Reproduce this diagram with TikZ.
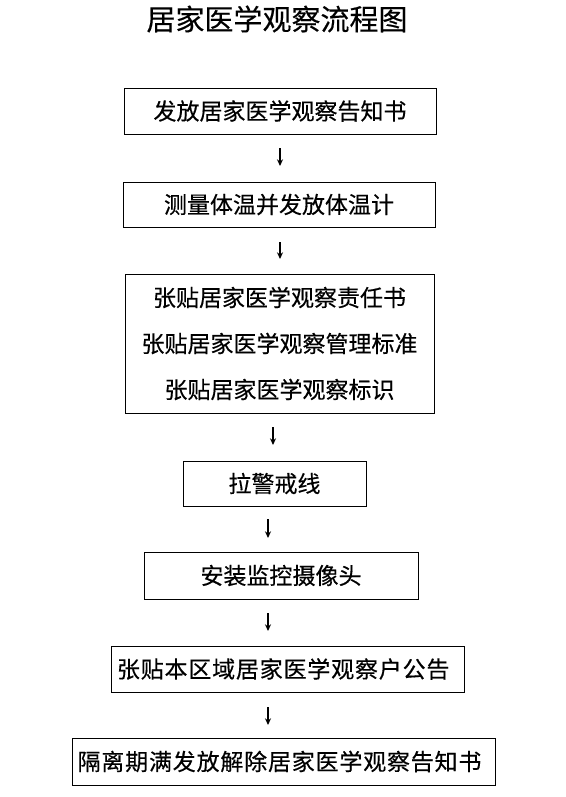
\documentclass[tikz,border=0pt]{standalone}
\usepackage{fontspec}
\setmainfont{Noto Sans CJK SC}[FakeBold=0.4]
\newfontfamily\widecjk{Noto Sans CJK SC}[FakeBold=0.4, LetterSpace=3.5]
\usetikzlibrary{arrows.meta}
\usetikzlibrary{positioning}

\begin{document}
\begin{tikzpicture}[x=0.75pt, y=-0.75pt, >=stealth]
    \tikzset{
        stepbox/.style={draw, line width=0.75pt, inner sep=0pt, align=center,
            font=\fontsize{17.25}{34.5}\selectfont}
    }
    \useasboundingbox (0,0) rectangle (565,797);

    \node [font=\fontsize{21.75}{26}\selectfont] (title) at (277,19) {居家医学观察流程图};

    \node [stepbox, minimum width=312*0.75pt, minimum height=46*0.75pt] (notice) at (280,111) {发放居家医学观察告知书};
    \node [stepbox, minimum width=312*0.75pt, minimum height=45*0.75pt] (temp) at (279,204.5) {测量体温并发放体温计};
    \node [stepbox, minimum width=309*0.75pt, minimum height=139*0.75pt] (posters) at (279.5,343.5)
        {张贴居家医学观察责任书\\张贴居家医学观察管理标准\\张贴居家医学观察标识};
    \node [stepbox, minimum width=183*0.75pt, minimum height=45*0.75pt] (cordon) at (274.5,483.5) {拉警戒线};
    \node [stepbox, minimum width=274*0.75pt, minimum height=47*0.75pt] (camera) at (281,575.5) {安装监控摄像头};
    \node [stepbox, minimum width=353*0.75pt, minimum height=46*0.75pt] (bulletin) at (287.5,669) {\widecjk 张贴本区域居家医学观察户公告\hspace*{6.5pt}};
    \node [stepbox, minimum width=423*0.75pt, minimum height=47*0.75pt] (release) at (283.5,761.5) {\widecjk 隔离期满发放解除居家医学观察告知书\hspace*{6pt}};

    % short arrows between the boxes
    \coordinate (A1) at (280,148);  \coordinate (B1) at (280,166);
    \coordinate (A2) at (280,242);  \coordinate (B2) at (280,259);
    \coordinate (A3) at (273,427);  \coordinate (B3) at (273,445);
    \coordinate (A4) at (268,519);  \coordinate (B4) at (268,538);
    \coordinate (A5) at (268,613);  \coordinate (B5) at (268,631);
    \coordinate (A6) at (268,707);  \coordinate (B6) at (268,725);
    \foreach \i in {1,...,6}
        \draw [line width=1.1pt, -{Stealth[length=5pt, width=4.5pt]}] (A\i) -- (B\i);

\end{tikzpicture}
\end{document}
